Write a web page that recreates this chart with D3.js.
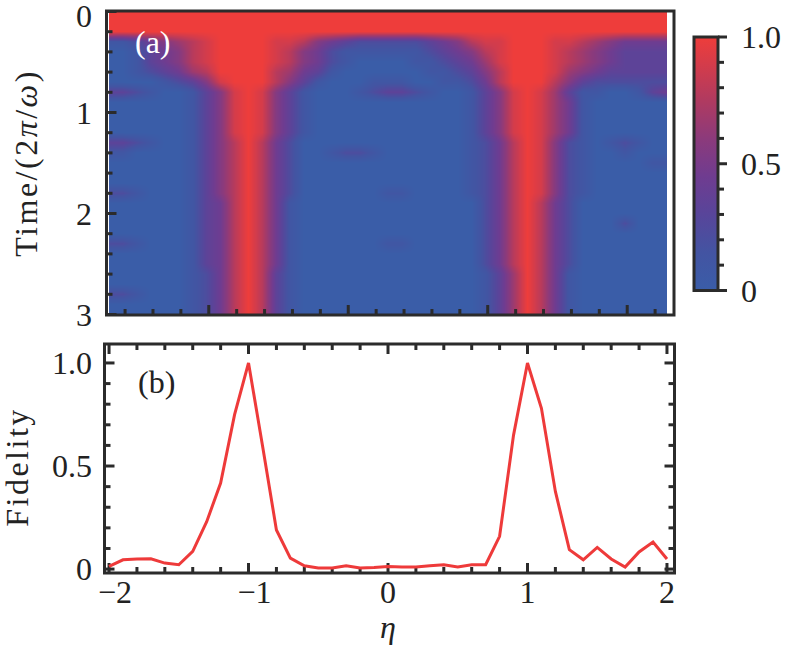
<!DOCTYPE html>
<html>
<head>
<meta charset="utf-8">
<script src="https://cdn.jsdelivr.net/npm/d3@7"></script>
<style>
  body { margin: 0; background: #fff; }
  svg text { font-family: "Liberation Serif", "Times New Roman", serif; fill: #222; }
</style>
</head>
<body>
<svg id="chart" width="787" height="649"></svg>
<script>
// eta samples (shared by both panels)
const eta = [-2, -1.9, -1.8, -1.7, -1.6, -1.5, -1.4, -1.3, -1.2, -1.1, -1, -0.9, -0.8, -0.7, -0.6, -0.5, -0.4, -0.3, -0.2, -0.1,
  0, 0.1, 0.2, 0.3, 0.4, 0.5, 0.6, 0.7, 0.8, 0.9, 1, 1.1, 1.2, 1.3, 1.4, 1.5, 1.6, 1.7, 1.8, 1.9, 2];

// time rows of the density plot, in units of 2pi/omega
const times = [0, 0.1, 0.2, 0.3, 0.4, 0.5, 0.6, 0.7, 0.8, 0.9, 1, 1.1, 1.2, 1.3, 1.4, 1.5, 1.6, 1.7, 1.8, 1.9,
  2, 2.1, 2.2, 2.3, 2.4, 2.5, 2.6, 2.7, 2.8, 2.9, 3];

// panel (a): one string per time row, one digit per eta column (spaces only group columns), value = digit / 9
const heatRows = [
  "9999999 9999999 9999999 999999 9999999 9999999",
  "9999999 9999999 9999999 999999 9999999 9999999",
  "9999999 9999999 9999999 999999 9999999 9999999",
  "1124567 8999988 7543222 223457 8899988 7654444",
  "0013457 8999987 5421111 112345 7899987 6543333",
  "0013457 8999987 5421000 011234 6899987 6543333",
  "0012346 7999976 4310000 001123 5799986 5433333",
  "0000123 5899975 3100011 100112 4799975 3222222",
  "3321001 3589853 1000123 321001 3589863 1100134",
  "0000001 3589853 1000000 000001 3589864 1000000",
  "0000001 3589853 1000000 000001 3589864 1000000",
  "0000001 3589853 1000000 000001 3589864 1000000",
  "0000001 3589853 1000000 000001 3589864 1000000",
  "3321001 3579742 0000000 000001 2479852 1012100",
  "1100001 3579742 0012210 000001 2479852 1001000",
  "0000001 3579742 0000000 000001 2479852 1000011",
  "0000001 3579742 0000000 000001 2479852 1000000",
  "0000001 3579742 0000000 000001 2479852 1000000",
  "2210001 3579742 0000001 100001 2479852 1000000",
  "0000001 3479741 0000000 000000 2479742 0000000",
  "0000001 3479741 0000000 000000 2479742 0000000",
  "0000001 3479741 0000000 000000 2479742 0002000",
  "0000001 3479741 0000000 000000 2479742 0000000",
  "2210001 3479741 0000001 100000 2479742 0000000",
  "0000001 3479741 0000000 000000 2479742 0000000",
  "0000001 3479741 0000000 000000 2479742 0000000",
  "0000001 2479731 0000000 000000 1369741 0000000",
  "0000001 2479731 0000000 000000 1369741 0000000",
  "2210001 2479731 0000000 000000 1369741 0000000",
  "0000001 2479731 0000000 000000 1369741 0000000",
  "0000001 2479731 0000000 000000 1369741 0000000"
];

// panel (b): fidelity vs eta
const fidelity = [0.013, 0.045, 0.049, 0.05, 0.029, 0.021, 0.086, 0.23, 0.417, 0.749, 1.0, 0.6, 0.19, 0.053, 0.016, 0.005,
  0.005, 0.016, 0.005, 0.008, 0.013, 0.01, 0.01, 0.016, 0.021, 0.01, 0.021, 0.021, 0.159, 0.65, 1.0, 0.78, 0.377,
  0.094, 0.045, 0.105, 0.049, 0.01, 0.083, 0.131, 0.049];

// colour map (blue -> purple -> red)
const colorStops = [0, 0.15, 0.3, 0.45, 0.6, 0.75, 0.9, 1];
const colorValues = ["#3a5da8", "#4354a2", "#58459a", "#6f3c90", "#8c3a7b", "#b03a60", "#d63c49", "#ee3d3b"];

const xTickLabels = ["−2", "−1", "0", "1", "2"];
const timeTickLabels = ["0", "1", "2", "3"];
const fidTickLabels = ["0", "0.5", "1.0"];
const barTickLabels = ["0", "0.5", "1.0"];

const ink = "#2b2b2b";
const svg = d3.select("#chart");

const x = d3.scaleLinear().domain([-2.029, 2.054]).range([105, 674.5]);
const yT = d3.scaleLinear().domain([0, 3]).range([11.5, 314.5]);
const yB = d3.scaleLinear().domain([-0.019, 1.092]).range([573, 344]);
const yC = d3.scaleLinear().domain([0, 1]).range([290.5, 37]);
const color = d3.scaleLinear().domain(colorStops).range(colorValues).clamp(true);

// ---- panel (a) density plot, smooth (bilinear) shading of the grid, drawn 1:1
const grid = heatRows.map(r => r.replace(/ /g, "").split("").map(ch => +ch / 9));
const colScale = d3.scaleLinear().domain([eta[0], eta[eta.length - 1]]).range([0, eta.length - 1]).clamp(true);
const rowScale = d3.scaleLinear().domain([times[0], times[times.length - 1]]).range([0, times.length - 1]).clamp(true);
const px0 = Math.round(x(eta[0])), px1 = Math.round(x(eta[eta.length - 1]));
const py0 = Math.round(yT(times[0])), py1 = Math.round(yT(times[times.length - 1]));
const W = px1 - px0, H = py1 - py0;
const lut = d3.range(256).map(i => d3.rgb(color(i / 255)));

const cv = document.createElement("canvas");
cv.width = W;
cv.height = H;
const ctx = cv.getContext("2d");
const img = ctx.createImageData(W, H);
for (let py = 0; py < H; py++) {
  const r = rowScale(yT.invert(py0 + py + 0.5));
  const r0 = Math.min(Math.floor(r), times.length - 2), fr = r - r0;
  for (let qx = 0; qx < W; qx++) {
    const c = colScale(x.invert(px0 + qx + 0.5));
    const c0 = Math.min(Math.floor(c), eta.length - 2), fc = c - c0;
    const v = (grid[r0][c0] * (1 - fc) + grid[r0][c0 + 1] * fc) * (1 - fr)
            + (grid[r0 + 1][c0] * (1 - fc) + grid[r0 + 1][c0 + 1] * fc) * fr;
    const col = lut[Math.round(v * 255)];
    const k = (py * W + qx) * 4;
    img.data[k] = col.r;
    img.data[k + 1] = col.g;
    img.data[k + 2] = col.b;
    img.data[k + 3] = 255;
  }
}
ctx.putImageData(img, 0, 0);

svg.append("image")
  .attr("href", cv.toDataURL())
  .attr("x", px0).attr("y", py0)
  .attr("width", W).attr("height", H)
  .attr("preserveAspectRatio", "none");

const gA = svg.append("g");
gA.append("rect")
  .attr("x", 106.5).attr("y", 11)
  .attr("width", 674 - 106.5).attr("height", 315 - 11)
  .attr("fill", "none").attr("stroke", ink).attr("stroke-width", 3);

// left ticks (time)
d3.range(0, 3.001, 0.2).forEach((v, i) => {
  const major = i % 5 === 0;
  gA.append("line")
    .attr("x1", 106.5).attr("x2", 106.5 + (major ? 10 : 6))
    .attr("y1", yT(v)).attr("y2", yT(v))
    .attr("stroke", ink).attr("stroke-width", 3);
});
// bottom ticks of panel (a)
d3.range(-1.885, 2, 0.2).forEach((v, i) => {
  const major = (i - 3) % 5 === 0;
  gA.append("line")
    .attr("x1", x(v)).attr("x2", x(v))
    .attr("y1", 315).attr("y2", 315 - (major ? 10 : 6))
    .attr("stroke", ink).attr("stroke-width", 3);
});
timeTickLabels.forEach((t, i) => {
  gA.append("text")
    .attr("x", 92).attr("y", yT(i) + (i === 0 ? 4 : 0)).attr("dy", "0.35em")
    .attr("text-anchor", "end").attr("font-size", 32)
    .text(t);
});
gA.append("text")
  .attr("x", 135).attr("y", 53)
  .attr("font-size", 32).style("fill", "#fff")
  .text("(a)");

const tl = gA.append("text")
  .attr("transform", "translate(37,163) rotate(-90)")
  .attr("text-anchor", "middle").attr("font-size", 32)
  .attr("letter-spacing", 2.5);
tl.append("tspan").text("Time/(2");
tl.append("tspan").attr("font-style", "italic").text("π");
tl.append("tspan").text("/");
tl.append("tspan").attr("font-style", "italic").text("ω");
tl.append("tspan").text(")");

// ---- colour bar
const defs = svg.append("defs");
const grad = defs.append("linearGradient").attr("id", "cbar")
  .attr("x1", 0).attr("y1", 1).attr("x2", 0).attr("y2", 0);
colorStops.forEach((s, i) => {
  grad.append("stop").attr("offset", s).attr("stop-color", colorValues[i]);
});
const gC = svg.append("g");
gC.append("rect")
  .attr("x", 694).attr("y", yC(1))
  .attr("width", 24).attr("height", yC(0) - yC(1))
  .attr("fill", "url(#cbar)")
  .attr("stroke", ink).attr("stroke-width", 3);
d3.range(0, 1.001, 0.1).forEach((v, i) => {
  const major = i % 5 === 0;
  gC.append("line")
    .attr("x1", 718).attr("x2", 718 + (major ? 9 : 6))
    .attr("y1", yC(v)).attr("y2", yC(v))
    .attr("stroke", ink).attr("stroke-width", 3);
});
barTickLabels.forEach((t, i) => {
  gC.append("text")
    .attr("x", 741).attr("y", yC(i * 0.5)).attr("dy", "0.35em")
    .attr("font-size", 32)
    .text(t);
});

// ---- panel (b) fidelity
const gB = svg.append("g");
gB.append("rect")
  .attr("x", 104.5).attr("y", 344)
  .attr("width", 674.5 - 104.5).attr("height", 573 - 344)
  .attr("fill", "none").attr("stroke", ink).attr("stroke-width", 3);

d3.range(-2, 2.001, 0.2).forEach((v, i) => {
  const major = i % 5 === 0;
  const len = major ? 10 : 6;
  gB.append("line").attr("x1", x(v)).attr("x2", x(v))
    .attr("y1", 573).attr("y2", 573 - len)
    .attr("stroke", ink).attr("stroke-width", 3);
  gB.append("line").attr("x1", x(v)).attr("x2", x(v))
    .attr("y1", 344).attr("y2", 344 + len)
    .attr("stroke", ink).attr("stroke-width", 3);
});
d3.range(0, 1.001, 0.1).forEach((v, i) => {
  const major = i % 5 === 0;
  const len = major ? 10 : 6;
  gB.append("line").attr("x1", 104.5).attr("x2", 104.5 + len)
    .attr("y1", yB(v)).attr("y2", yB(v))
    .attr("stroke", ink).attr("stroke-width", 3);
  gB.append("line").attr("x1", 674.5).attr("x2", 674.5 - len)
    .attr("y1", yB(v)).attr("y2", yB(v))
    .attr("stroke", ink).attr("stroke-width", 3);
});

const line = d3.line().x((d, i) => x(eta[i])).y(d => yB(d));
gB.append("path")
  .datum(fidelity)
  .attr("d", line)
  .attr("fill", "none")
  .attr("stroke", "#ee3a3a")
  .attr("stroke-width", 3)
  .attr("stroke-linejoin", "miter");

xTickLabels.forEach((t, i) => {
  const v = i - 2;
  gB.append("text")
    .attr("x", x(v) + (v < 0 ? 6 : 0)).attr("y", 603)
    .attr("text-anchor", "middle").attr("font-size", 32)
    .text(t);
});
fidTickLabels.forEach((t, i) => {
  gB.append("text")
    .attr("x", 92).attr("y", yB(i * 0.5)).attr("dy", "0.35em")
    .attr("text-anchor", "end").attr("font-size", 32)
    .text(t);
});
gB.append("text")
  .attr("x", 138).attr("y", 393)
  .attr("font-size", 32)
  .text("(b)");
gB.append("text")
  .attr("transform", "translate(28,467) rotate(-90)")
  .attr("text-anchor", "middle").attr("font-size", 32)
  .attr("letter-spacing", 2.5)
  .text("Fidelity");
gB.append("text")
  .attr("x", 388).attr("y", 638)
  .attr("text-anchor", "middle").attr("font-size", 32)
  .attr("font-style", "italic")
  .text("η");
</script>
</body>
</html>
